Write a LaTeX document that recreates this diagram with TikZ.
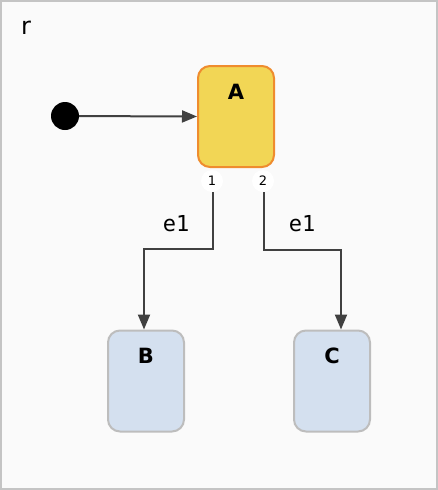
\documentclass[tikz,border=0pt]{standalone}
\usepackage{fontspec}
\setmainfont{DejaVu Sans}
\newfontfamily\edgefont{DejaVu Sans Mono}
\usetikzlibrary{arrows.meta}
\definecolor{frameGray}{HTML}{C4C4C4}
\definecolor{paperBg}{HTML}{FAFAFA}
\definecolor{activeFill}{HTML}{F2D655}
\definecolor{activeLine}{HTML}{EF8C2E}
\definecolor{stateFill}{HTML}{D4E0EF}
\definecolor{stateLine}{HTML}{BDBDBD}
\definecolor{wireGray}{HTML}{404040}
\tikzset{
  statebox/.style={draw, line width=2pt, rounded corners=12pt, minimum width=76pt, minimum height=101pt, inner sep=0pt},
  wire/.style={draw=wireGray, line width=2pt, -{Triangle[length=15pt,width=12pt]}},
  portdot/.style={circle, fill=white, inner sep=0pt, minimum size=22pt, font=\fontsize{13}{13}\selectfont},
}
\begin{document}
\begin{tikzpicture}[x=1pt,y=1pt,yscale=-1,xscale=1]
%Shape: Frame
\draw [line width=2pt, draw=frameGray, fill=paperBg] (1,1) rectangle (437,489) ;

% Text Node
\draw (26,28) node [inner sep=0pt, font=\fontsize{24}{24}\selectfont] (regionR) {r};

%Shape: Initial dot
\draw (65,116) node [circle, fill=black, minimum size=28pt, inner sep=0pt] (init) {};

%Shape: States
\draw (236,116.5) node [statebox, draw=activeLine, fill=activeFill,
  label={[anchor=base, yshift=-34pt, font=\fontsize{21}{21}\bfseries]north:A}] (stA) {};
\draw (146,381) node [statebox, draw=stateLine, fill=stateFill,
  label={[anchor=base, yshift=-34pt, font=\fontsize{21}{21}\bfseries]north:B}] (stB) {};
\draw (332,381) node [statebox, draw=stateLine, fill=stateFill,
  label={[anchor=base, yshift=-34pt, font=\fontsize{21}{21}\bfseries]north:C}] (stC) {};

%Shape: Ports
\draw (212,181) node [portdot] (port1) {1};
\draw (263,181) node [portdot] (port2) {2};

% Connectors
\draw [wire] (init) -- (stA.west);
\draw [wire] (port1.south -| 213,0) -- (213,249) -| ([xshift=-2pt]stB.north);
\draw [wire] (port2.south -| 264,0) -- (264,250) -| ([xshift=9pt]stC.north);

% Text Node
\draw (176,224) node [font=\edgefont\fontsize{22}{22}\selectfont] (lblE1a) {e1};
% Text Node
\draw (302,224) node [font=\edgefont\fontsize{22}{22}\selectfont] (lblE1b) {e1};

\end{tikzpicture}
\end{document}
